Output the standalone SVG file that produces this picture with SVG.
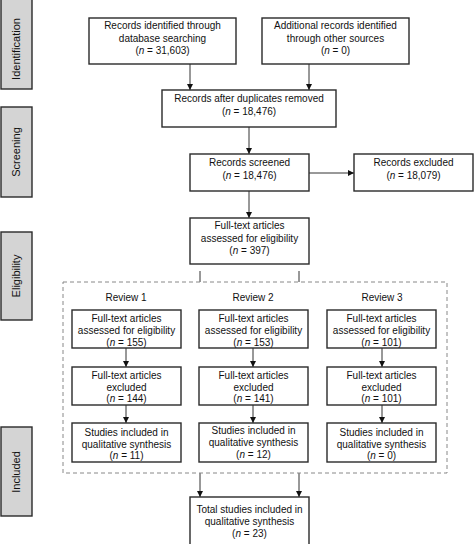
<svg xmlns="http://www.w3.org/2000/svg" width="474" height="544" viewBox="0 0 474 544">
<defs>
<style>
.box{fill:#fff;stroke:#2a2a2a;stroke-width:1.4}
.side{fill:#d4d4d4;stroke:#2a2a2a;stroke-width:1.4}
.t{font-family:"Liberation Sans",Arial,sans-serif;font-size:10px;fill:#111;text-anchor:middle}
.s{font-family:"Liberation Sans",Arial,sans-serif;font-size:11px;fill:#111;text-anchor:middle}
.ln{stroke:#333;stroke-width:1;fill:none}
.dash{stroke:#888;stroke-width:1;fill:none;stroke-dasharray:4,3}
</style>
<marker id="ah" viewBox="0 0 8 8" refX="8" refY="4" markerWidth="6" markerHeight="6" markerUnits="userSpaceOnUse" orient="auto">
<path d="M0,0 L8,4 L0,8 z" fill="#111"/>
</marker>
</defs>
<rect width="474" height="544" fill="#fff"/>

<g id="side-identification"><rect class="side" x="1" y="-2" width="31" height="91"/><text class="s" transform="translate(20,49) rotate(-90)">Identification</text></g>
<g id="side-screening"><rect class="side" x="1" y="107" width="31" height="90"/><text class="s" transform="translate(20,152) rotate(-90)">Screening</text></g>
<g id="side-eligibility"><rect class="side" x="1" y="232" width="31" height="88"/><text class="s" transform="translate(20,276) rotate(-90)">Eligibility</text></g>
<g id="side-included"><rect class="side" x="1" y="427" width="31" height="89"/><text class="s" transform="translate(20,472) rotate(-90)">Included</text></g>

<g id="connectors">
<line class="ln" x1="190" y1="64" x2="190" y2="90" marker-end="url(#ah)"/>
<line class="ln" x1="309" y1="64" x2="309" y2="90" marker-end="url(#ah)"/>
<line class="ln" x1="249" y1="127" x2="249" y2="154" marker-end="url(#ah)"/>
<line class="ln" x1="309" y1="173" x2="354" y2="173" marker-end="url(#ah)"/>
<line class="ln" x1="249" y1="191" x2="249" y2="218" marker-end="url(#ah)"/>
<line class="ln" x1="200" y1="271" x2="200" y2="282"/>
<line class="ln" x1="299" y1="271" x2="299" y2="282"/>
<line class="ln" x1="126" y1="348" x2="126" y2="367" marker-end="url(#ah)"/>
<line class="ln" x1="253" y1="348" x2="253" y2="367" marker-end="url(#ah)"/>
<line class="ln" x1="382" y1="348" x2="382" y2="367" marker-end="url(#ah)"/>
<line class="ln" x1="126" y1="405" x2="126" y2="423" marker-end="url(#ah)"/>
<line class="ln" x1="253" y1="405" x2="253" y2="423" marker-end="url(#ah)"/>
<line class="ln" x1="382" y1="405" x2="382" y2="423" marker-end="url(#ah)"/>
<line class="ln" x1="200" y1="473" x2="200" y2="497" marker-end="url(#ah)"/>
<line class="ln" x1="299" y1="473" x2="299" y2="497" marker-end="url(#ah)"/>
</g>

<g id="review-group"><rect class="dash" x="63" y="282" width="384" height="191"/>
<text class="t" x="126" y="301">Review 1</text>
<text class="t" x="253" y="301">Review 2</text>
<text class="t" x="382" y="301">Review 3</text>
</g>

<g id="n-database"><rect class="box" x="89" y="18" width="147" height="46"/>
<text class="t" x="162.5" y="29">Records identified through</text>
<text class="t" x="162.5" y="41.5">database searching</text>
<text class="t" x="162.5" y="54">(<tspan font-style="italic">n</tspan> = 31,603)</text></g>

<g id="n-other"><rect class="box" x="262" y="18" width="147" height="46"/>
<text class="t" x="335.5" y="29">Additional records identified</text>
<text class="t" x="335.5" y="41.5">through other sources</text>
<text class="t" x="335.5" y="54">(<tspan font-style="italic">n</tspan> = 0)</text></g>

<g id="n-duplicates"><rect class="box" x="162" y="90" width="174" height="37"/>
<text class="t" x="249" y="102">Records after duplicates removed</text>
<text class="t" x="249" y="114.5">(<tspan font-style="italic">n</tspan> = 18,476)</text></g>

<g id="n-screened"><rect class="box" x="190" y="154" width="119" height="37"/>
<text class="t" x="249.5" y="166">Records screened</text>
<text class="t" x="249.5" y="179">(<tspan font-style="italic">n</tspan> = 18,476)</text></g>

<g id="n-excluded"><rect class="box" x="354" y="154" width="119" height="37"/>
<text class="t" x="413.5" y="166">Records excluded</text>
<text class="t" x="413.5" y="179">(<tspan font-style="italic">n</tspan> = 18,079)</text></g>

<g id="n-fulltext"><rect class="box" x="190" y="218" width="119" height="46"/>
<text class="t" x="249.5" y="229">Full-text articles</text>
<text class="t" x="249.5" y="242">assessed for eligibility</text>
<text class="t" x="249.5" y="254">(<tspan font-style="italic">n</tspan> = 397)</text></g>

<g id="r1-assessed"><rect class="box" x="72" y="310" width="109" height="38"/>
<text class="t" x="126.5" y="322">Full-text articles</text>
<text class="t" x="126.5" y="334">assessed for eligibility</text>
<text class="t" x="126.5" y="345.5">(<tspan font-style="italic">n</tspan> = 155)</text></g>
<g id="r2-assessed"><rect class="box" x="199" y="310" width="109" height="38"/>
<text class="t" x="253.5" y="322">Full-text articles</text>
<text class="t" x="253.5" y="334">assessed for eligibility</text>
<text class="t" x="253.5" y="345.5">(<tspan font-style="italic">n</tspan> = 153)</text></g>
<g id="r3-assessed"><rect class="box" x="327" y="310" width="109" height="38"/>
<text class="t" x="381.5" y="322">Full-text articles</text>
<text class="t" x="381.5" y="334">assessed for eligibility</text>
<text class="t" x="381.5" y="345.5">(<tspan font-style="italic">n</tspan> = 101)</text></g>

<g id="r1-excluded"><rect class="box" x="72" y="367" width="109" height="38"/>
<text class="t" x="126.5" y="379">Full-text articles</text>
<text class="t" x="126.5" y="391">excluded</text>
<text class="t" x="126.5" y="402">(<tspan font-style="italic">n</tspan> = 144)</text></g>
<g id="r2-excluded"><rect class="box" x="199" y="367" width="109" height="38"/>
<text class="t" x="253.5" y="379">Full-text articles</text>
<text class="t" x="253.5" y="391">excluded</text>
<text class="t" x="253.5" y="402">(<tspan font-style="italic">n</tspan> = 141)</text></g>
<g id="r3-excluded"><rect class="box" x="327" y="367" width="109" height="38"/>
<text class="t" x="381.5" y="379">Full-text articles</text>
<text class="t" x="381.5" y="391">excluded</text>
<text class="t" x="381.5" y="402">(<tspan font-style="italic">n</tspan> = 101)</text></g>

<g id="r1-included"><rect class="box" x="72" y="423" width="109" height="39"/>
<text class="t" x="126.5" y="436">Studies included in</text>
<text class="t" x="126.5" y="447.5">qualitative synthesis</text>
<text class="t" x="126.5" y="458.5">(<tspan font-style="italic">n</tspan> = 11)</text></g>
<g id="r2-included"><rect class="box" x="199" y="423" width="109" height="39"/>
<text class="t" x="253.5" y="434">Studies included in</text>
<text class="t" x="253.5" y="446">qualitative synthesis</text>
<text class="t" x="253.5" y="458">(<tspan font-style="italic">n</tspan> = 12)</text></g>
<g id="r3-included"><rect class="box" x="327" y="423" width="109" height="39"/>
<text class="t" x="381.5" y="436">Studies included in</text>
<text class="t" x="381.5" y="447.5">qualitative synthesis</text>
<text class="t" x="381.5" y="458.5">(<tspan font-style="italic">n</tspan> = 0)</text></g>

<g id="n-total"><rect class="box" x="190" y="497" width="119" height="50"/>
<text class="t" x="249.5" y="513">Total studies included in</text>
<text class="t" x="249.5" y="525">qualitative synthesis</text>
<text class="t" x="249.5" y="536.5">(<tspan font-style="italic">n</tspan> = 23)</text></g>
</svg>
